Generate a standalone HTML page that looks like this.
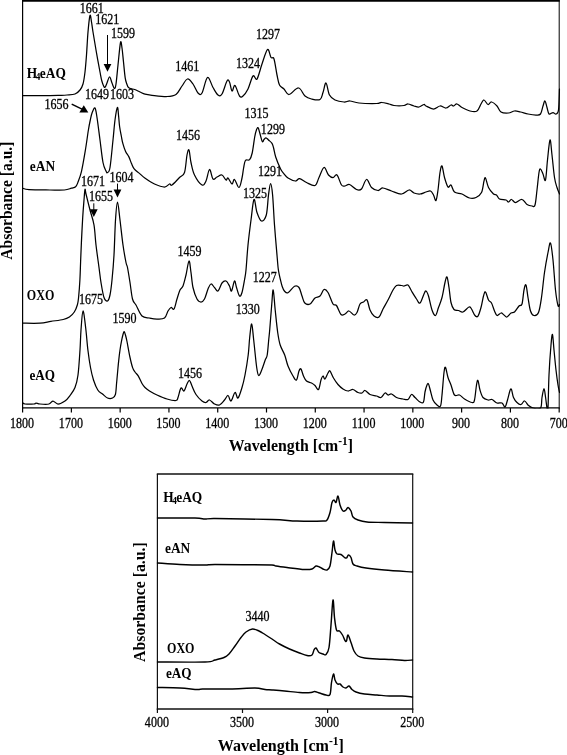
<!DOCTYPE html>
<html><head><meta charset="utf-8"><title>IR spectra</title>
<style>html,body{margin:0;padding:0;background:#fff}svg{display:block}text{font-family:"Liberation Serif","Times New Roman",serif;fill:#000}.pk{font-size:14px;text-anchor:middle;stroke:#000;stroke-width:.3px}.tk{font-size:14px;text-anchor:middle;stroke:#000;stroke-width:.3px}.nm{font-size:13.8px;font-weight:bold}.ax{font-size:16px;font-weight:bold}</style></head><body>
<svg width="567" height="755" viewBox="0 0 567 755">
<rect width="567" height="755" fill="#fff"/>
<g fill="none" stroke="#000">
<line x1="22" y1="0.85" x2="559.7" y2="0.85" stroke-width="1.7"/>
<line x1="22.6" y1="0" x2="22.6" y2="408.4" stroke-width="1.2"/>
<line x1="559.2" y1="0" x2="559.2" y2="408.4" stroke-width="1"/>
<line x1="22" y1="407.9" x2="559.7" y2="407.9" stroke-width="1.3"/>
<line x1="22.60" y1="408" x2="22.60" y2="412.5" stroke-width="1.2"/>
<line x1="71.38" y1="408" x2="71.38" y2="412.5" stroke-width="1.2"/>
<line x1="120.16" y1="408" x2="120.16" y2="412.5" stroke-width="1.2"/>
<line x1="168.94" y1="408" x2="168.94" y2="412.5" stroke-width="1.2"/>
<line x1="217.72" y1="408" x2="217.72" y2="412.5" stroke-width="1.2"/>
<line x1="266.50" y1="408" x2="266.50" y2="412.5" stroke-width="1.2"/>
<line x1="315.28" y1="408" x2="315.28" y2="412.5" stroke-width="1.2"/>
<line x1="364.06" y1="408" x2="364.06" y2="412.5" stroke-width="1.2"/>
<line x1="412.84" y1="408" x2="412.84" y2="412.5" stroke-width="1.2"/>
<line x1="461.62" y1="408" x2="461.62" y2="412.5" stroke-width="1.2"/>
<line x1="510.40" y1="408" x2="510.40" y2="412.5" stroke-width="1.2"/>
<line x1="559.18" y1="408" x2="559.18" y2="412.5" stroke-width="1.2"/>
</g>
<clipPath id="c1"><rect x="22" y="0" width="538.2" height="408.6"/></clipPath>
<g fill="none" stroke="#000" stroke-width="1.25" stroke-linejoin="round" stroke-linecap="round" clip-path="url(#c1)">
<path d="M22.5,95.5C27.18,95.50 43.62,95.53 50,95.5C56.38,95.47 57.11,95.38 60,95.3C62.89,95.22 64.45,95.22 67,95C69.55,94.78 72.79,94.85 75,94C77.21,93.15 78.64,91.70 80,90C81.36,88.30 82.15,87.06 83,84C83.85,80.94 84.41,76.93 85,72C85.59,67.07 85.99,61.80 86.5,55C87.01,48.20 87.41,38.72 88,32C88.59,25.29 89.41,17.20 90,15.5C90.59,13.80 90.99,19.20 91.5,22C92.01,24.80 92.23,27.24 93,32C93.77,36.76 94.81,43.20 96,50C97.19,56.80 98.98,66.64 100,72C101.02,77.36 101.22,78.88 102,81.5C102.78,84.12 103.82,86.98 104.6,87.4C105.38,87.83 105.77,85.77 106.6,84C107.43,82.23 108.58,77.17 109.5,77C110.42,76.83 111.17,81.05 112,83C112.83,84.95 113.72,88.33 114.4,88.5C115.08,88.67 115.39,88.00 116,84C116.61,80.00 117.23,72.06 118,65C118.77,57.95 119.82,45.39 120.5,42.5C121.18,39.61 121.49,44.69 122,48C122.51,51.31 122.96,56.92 123.5,62C124.04,67.08 124.64,74.16 125.2,77.9C125.76,81.64 126.26,82.39 126.8,84C127.34,85.61 127.69,86.60 128.4,87.4C129.11,88.20 129.93,88.34 131,88.7C132.07,89.06 133.17,88.94 134.7,89.5C136.23,90.06 138.25,91.20 140,92C141.75,92.80 142.96,93.64 145,94.2C147.04,94.76 148.26,94.91 152,95.3C155.74,95.69 162.92,96.64 167,96.5C171.08,96.36 173.45,96.28 176,94.5C178.55,92.72 180.04,88.64 182,86C183.96,83.36 185.63,79.34 187.5,79C189.37,78.66 191.22,81.62 193,84C194.78,86.38 196.47,91.47 198,93C199.53,94.53 200.38,95.64 202,93C203.62,90.36 205.63,78.44 207.5,77.5C209.37,76.56 211.22,84.53 213,87.5C214.78,90.47 216.47,93.89 218,95C219.53,96.11 220.47,96.38 222,94C223.53,91.62 225.72,83.04 227,81C228.28,78.96 228.65,80.30 229.5,82C230.35,83.70 231.06,90.41 232,91C232.94,91.59 233.72,84.65 235,85.5C236.28,86.35 238.14,94.22 239.5,96C240.86,97.78 241.56,97.19 243,96C244.44,94.81 246.30,92.40 248,89C249.70,85.60 251.47,77.70 253,76C254.53,74.30 255.47,81.04 257,79C258.53,76.96 260.21,69.02 262,64C263.79,58.98 265.97,50.60 267.5,49.5C269.03,48.40 269.89,55.88 271,57.5C272.11,59.12 272.98,56.02 274,59C275.02,61.98 276.06,70.58 277,75C277.94,79.42 278.31,82.62 279.5,85C280.69,87.38 282.38,87.39 284,89C285.62,90.61 286.54,94.67 289,94.5C291.46,94.33 295.78,87.75 298.5,88C301.22,88.25 302.79,94.13 305,96C307.21,97.87 308.95,98.41 311.5,99C314.05,99.59 318.05,100.61 320,99.5C321.95,98.39 321.98,95.31 323,92.5C324.02,89.69 324.89,82.58 326,83C327.11,83.42 327.97,92.11 329.5,95C331.03,97.89 332.54,98.81 335,100C337.46,101.19 341.45,101.83 344,102C346.55,102.17 347.45,100.83 350,101C352.55,101.17 354.50,102.58 359,103C363.50,103.42 372.68,103.58 376.5,103.5C380.32,103.42 379.38,102.42 381.5,102.5C383.62,102.58 386.88,103.49 389,104C391.12,104.51 391.45,105.25 394,105.5C396.55,105.75 401.62,105.75 404,105.5C406.38,105.25 406.30,103.92 408,104C409.70,104.08 412.13,105.49 414,106C415.87,106.51 417.30,107.25 419,107C420.70,106.75 422.81,104.67 424,104.5C425.19,104.33 424.38,105.23 426,106C427.62,106.77 431.12,109.00 433.5,109C435.88,109.00 437.88,106.17 440,106C442.12,105.83 444.13,108.17 446,108C447.87,107.83 449.73,105.34 451,105C452.27,104.66 452.48,106.17 453.5,106C454.52,105.83 455.56,103.75 457,104C458.44,104.25 459.79,106.31 462,107.5C464.21,108.69 467.45,110.41 470,111C472.55,111.59 475.13,112.19 477,111C478.87,109.81 479.81,105.87 481,104C482.19,102.13 482.81,99.92 484,100C485.19,100.08 486.73,104.16 488,104.5C489.27,104.84 489.97,101.75 491.5,102C493.03,102.25 495.38,104.30 497,106C498.62,107.70 499.05,110.81 501,112C502.95,113.19 506.20,113.17 508.5,113C510.80,112.83 512.46,111.17 514.5,111C516.54,110.83 518.21,111.49 520.5,112C522.79,112.51 525.37,113.49 528,114C530.63,114.51 533.88,115.00 536,115C538.12,115.00 539.31,115.53 540.5,114C541.69,112.47 542.24,108.21 543,106C543.76,103.79 544.32,100.75 545,101C545.68,101.25 546.32,105.29 547,107.5C547.68,109.71 547.98,113.15 549,114C550.02,114.85 551.81,112.50 553,112.5C554.19,112.50 555.07,114.42 556,114C556.93,113.58 557.90,114.25 558.5,110C559.10,105.75 559.33,92.57 559.5,89"/>
<path d="M22.5,188.2C23.61,188.44 24.32,189.29 29,189.6C33.67,189.91 43.98,189.93 50,190C56.02,190.07 60.76,190.31 64.4,190C68.04,189.69 69.50,188.74 71.4,188.2C73.30,187.66 74.51,187.75 75.6,186.8C76.69,185.85 76.80,185.23 77.8,182.6C78.80,179.97 80.21,176.84 81.5,171.3C82.79,165.76 84.23,157.02 85.4,150C86.57,142.98 87.57,135.10 88.4,130C89.23,124.90 89.65,122.97 90.3,120C90.95,117.03 91.40,114.54 92.2,112.5C93.00,110.46 94.18,107.15 95,108C95.82,108.85 96.15,112.06 97,117.5C97.85,122.94 98.98,132.35 100,140C101.02,147.65 101.98,157.23 103,162.5C104.02,167.77 105.23,169.30 106,171C106.77,172.70 106.82,173.09 107.5,172.5C108.18,171.91 109.06,173.03 110,167.5C110.94,161.97 112.15,148.07 113,140C113.85,131.93 114.25,125.54 115,120C115.75,114.46 116.79,108.08 117.4,107.4C118.01,106.72 118.23,112.75 118.6,116C118.97,119.25 119.14,123.10 119.6,126.5C120.06,129.90 120.74,133.08 121.3,136C121.86,138.92 122.17,141.05 122.9,143.7C123.63,146.35 124.58,149.36 125.6,151.6C126.62,153.84 127.90,154.88 128.9,156.9C129.90,158.92 130.60,161.48 131.5,163.5C132.40,165.52 132.84,167.12 134.2,168.8C135.56,170.48 137.70,171.84 139.5,173.4C141.30,174.96 142.25,176.20 144.8,178C147.35,179.80 151.15,182.47 154.5,184C157.85,185.53 161.95,187.00 164.5,187C167.05,187.00 168.22,184.34 169.5,184C170.78,183.66 170.30,186.10 172,185C173.70,183.90 177.38,179.62 179.5,177.5C181.62,175.38 183.22,176.32 184.5,172.5C185.78,168.68 186.24,158.82 187,155C187.76,151.18 188.32,148.72 189,150C189.68,151.28 190.06,158.25 191,162.5C191.94,166.75 192.63,171.18 194.5,175C196.37,178.82 200.04,183.98 202,185C203.96,186.02 204.72,183.63 206,181C207.28,178.37 208.31,169.84 209.5,169.5C210.69,169.16 211.72,177.72 213,179C214.28,180.28 215.47,177.68 217,177C218.53,176.32 220.47,174.49 222,175C223.53,175.51 224.98,179.49 226,180C227.02,180.51 226.98,177.32 228,178C229.02,178.68 230.90,183.75 232,184C233.10,184.25 233.31,178.91 234.5,179.5C235.69,180.09 237.72,187.75 239,187.5C240.28,187.25 241.22,181.31 242,178C242.78,174.69 243.02,170.97 243.6,168C244.18,165.03 244.38,161.93 245.4,160.5C246.42,159.07 248.44,160.88 249.6,159.6C250.76,158.32 251.33,156.84 252.2,153C253.07,149.16 253.97,140.94 254.7,137C255.43,133.06 255.92,131.36 256.5,129.8C257.08,128.24 257.54,127.26 258.1,127.8C258.66,128.34 259.09,130.67 259.8,133C260.51,135.33 261.59,140.40 262.3,141.5C263.01,142.60 263.37,140.13 264,139.5C264.63,138.87 265.24,137.72 266,137.8C266.76,137.89 267.48,139.06 268.5,140C269.52,140.94 271.13,141.94 272,143.3C272.87,144.66 272.97,145.67 273.6,148C274.23,150.33 274.51,153.43 275.7,157C276.89,160.57 279.19,166.14 280.6,169C282.01,171.86 282.74,172.27 284,173.8C285.26,175.33 286.05,176.78 288,178C289.95,179.22 293.55,180.90 295.5,181C297.45,181.10 297.63,178.34 299.5,178.6C301.37,178.85 303.87,181.33 306.5,182.5C309.13,183.67 312.88,186.35 315,185.5C317.12,184.65 317.47,180.56 319,177.5C320.53,174.44 322.38,167.93 324,167.5C325.62,167.07 326.97,173.30 328.5,175C330.03,176.70 331.56,177.50 333,177.5C334.44,177.50 335.56,173.72 337,175C338.44,176.28 340.14,183.13 341.5,185C342.86,186.87 343.64,186.09 345,186C346.36,185.91 347.55,183.91 349.5,184.5C351.45,185.09 354.46,188.74 356.5,189.5C358.54,190.26 359.80,190.70 361.5,189C363.20,187.30 364.80,179.75 366.5,179.5C368.20,179.25 369.55,185.63 371.5,187.5C373.45,189.37 376.05,190.41 378,190.5C379.95,190.59 380.70,187.91 383,188C385.30,188.09 388.36,189.98 391.5,191C394.64,192.02 398.52,194.17 401.5,194C404.48,193.83 406.88,190.17 409,190C411.12,189.83 412.13,192.32 414,193C415.87,193.68 417.96,194.17 420,194C422.04,193.83 424.21,192.51 426,192C427.79,191.49 429.23,190.49 430.5,191C431.77,191.51 432.56,193.38 433.5,195C434.44,196.62 435.24,201.35 436,200.5C436.76,199.65 437.32,194.76 438,190C438.68,185.24 439.32,176.58 440,172.5C440.68,168.42 441.24,165.15 442,166C442.76,166.85 443.48,173.93 444.5,177.5C445.52,181.07 446.89,185.72 448,187C449.11,188.28 449.89,184.15 451,185C452.11,185.85 452.63,190.47 454.5,192C456.37,193.53 459.45,192.98 462,194C464.55,195.02 467.12,197.41 469.5,198C471.88,198.59 473.96,198.44 476,197.5C478.04,196.56 480.14,195.31 481.5,192.5C482.86,189.69 483.32,183.47 484,181C484.68,178.53 484.74,176.90 485.5,178C486.26,179.10 487.14,184.78 488.5,187.5C489.86,190.22 492.14,192.72 493.5,194C494.86,195.28 495.48,194.15 496.5,195C497.52,195.85 497.88,198.15 499.5,199C501.12,199.85 504.47,199.49 506,200C507.53,200.51 507.56,202.09 508.5,202C509.44,201.91 510.31,199.41 511.5,199.5C512.69,199.59 513.72,202.50 515.5,202.5C517.28,202.50 520.04,199.16 522,199.5C523.96,199.84 525.30,203.40 527,204.5C528.70,205.60 530.64,205.91 532,206C533.36,206.09 534.15,207.72 535,205C535.85,202.28 536.32,195.53 537,190C537.68,184.47 538.40,176.07 539,172.5C539.60,168.93 539.82,168.75 540.5,169C541.18,169.25 542.15,172.13 543,174C543.85,175.87 544.74,182.38 545.5,180C546.26,177.62 546.74,166.80 547.5,160C548.26,153.20 549.24,140.85 550,140C550.76,139.15 551.24,148.62 552,155C552.76,161.38 553.65,171.97 554.5,177.5C555.35,183.03 556.15,184.69 557,187.5C557.85,190.31 559.08,192.90 559.5,194"/>
<path d="M22.5,323.2C25.48,323.20 35.17,323.51 40,323.2C44.83,322.89 46.96,322.03 50.9,321.4C54.84,320.77 60.05,320.25 63.2,319.5C66.34,318.75 67.51,318.27 69.4,317C71.29,315.73 72.94,314.09 74.3,312C75.66,309.91 76.67,307.20 77.4,304.7C78.13,302.20 78.17,301.50 78.6,297.3C79.02,293.10 79.56,286.00 79.9,280C80.24,274.00 80.34,268.38 80.6,262C80.85,255.62 81.04,250.06 81.4,242.5C81.76,234.94 82.26,224.72 82.7,217.5C83.14,210.28 83.61,204.76 84,200C84.39,195.24 84.66,190.52 85,189.5C85.34,188.48 85.15,190.51 86,194C86.85,197.49 88.64,204.73 90,210C91.36,215.27 92.98,219.05 94,225C95.02,230.95 95.15,237.78 96,245C96.85,252.22 98.15,261.12 99,267.5C99.85,273.88 100.15,277.40 101,282.5C101.85,287.60 102.89,294.36 104,297.5C105.11,300.64 106.48,301.43 107.5,301C108.52,300.57 109.23,298.57 110,295C110.77,291.43 111.32,286.80 112,280C112.68,273.20 113.41,265.20 114,255C114.59,244.80 114.91,229.01 115.5,220C116.09,210.99 116.73,202.00 117.5,202C118.27,202.00 119.06,212.69 120,220C120.94,227.31 121.98,237.78 123,245C124.02,252.22 125.23,258.68 126,262.5C126.77,266.32 126.82,264.10 127.5,267.5C128.18,270.90 129.15,277.14 130,282.5C130.85,287.86 131.48,295.18 132.5,299C133.52,302.82 134.38,302.11 136,305C137.62,307.89 139.71,313.79 142,316C144.29,318.21 146.95,317.49 149.5,318C152.05,318.51 154.45,319.00 157,319C159.55,319.00 162.63,319.36 164.5,318C166.37,316.64 166.90,312.79 168,311C169.10,309.21 169.98,307.84 171,307.5C172.02,307.16 172.98,310.44 174,309C175.02,307.56 175.98,302.23 177,299C178.02,295.77 178.98,292.21 180,290C181.02,287.79 181.98,288.55 183,286C184.02,283.45 184.98,279.25 186,275C187.02,270.75 188.15,261.43 189,261C189.85,260.57 190.32,268.00 191,272.5C191.68,277.00 191.98,283.00 193,287.5C194.02,292.00 195.64,296.54 197,299C198.36,301.46 199.72,302.00 201,302C202.28,302.00 203.31,301.21 204.5,299C205.69,296.79 206.90,291.55 208,289C209.10,286.45 209.90,284.25 211,284C212.10,283.75 213.31,286.31 214.5,287.5C215.69,288.69 216.72,291.76 218,291C219.28,290.24 220.64,284.70 222,283C223.36,281.30 224.72,280.49 226,281C227.28,281.51 228.56,284.30 229.5,286C230.44,287.70 230.65,291.85 231.5,291C232.35,290.15 233.65,281.60 234.5,281C235.35,280.40 235.65,284.95 236.5,287.5C237.35,290.05 238.56,295.15 239.5,296C240.44,296.85 241.15,295.22 242,292.5C242.85,289.78 243.82,283.82 244.5,280C245.18,276.18 245.41,275.95 246,270C246.59,264.05 247.15,253.50 248,245C248.85,236.50 249.98,227.74 251,220C252.02,212.26 252.98,200.78 254,199.5C255.02,198.22 255.72,208.84 257,212.5C258.27,216.16 259.92,220.57 261.5,221C263.08,221.43 265.11,219.42 266.3,215C267.49,210.58 267.77,200.34 268.5,195C269.23,189.66 269.90,183.60 270.6,183.6C271.30,183.60 271.94,187.96 272.6,195C273.26,202.04 273.72,214.38 274.5,225C275.28,235.62 276.54,249.85 277.2,257.5C277.86,265.15 277.84,266.18 278.4,270C278.96,273.82 279.85,277.19 280.5,280C281.15,282.81 281.54,284.63 282.2,286.5C282.86,288.37 283.41,289.93 284.4,291C285.39,292.07 286.28,293.62 288,292.8C289.72,291.98 292.63,287.10 294.5,286.2C296.37,285.30 297.73,285.83 299,287.5C300.27,289.17 301.01,293.37 302,296C302.99,298.63 303.44,301.64 304.8,303C306.16,304.36 308.27,304.85 310,304C311.73,303.15 313.30,299.36 315,298C316.70,296.64 318.47,297.44 320,296C321.53,294.56 322.64,290.10 324,289.5C325.36,288.90 326.47,290.04 328,292.5C329.53,294.96 331.56,301.79 333,304C334.44,306.21 335.14,303.71 336.5,305.5C337.86,307.29 339.56,313.06 341,314.5C342.44,315.94 343.64,314.60 345,314C346.36,313.40 347.47,310.83 349,311C350.53,311.17 352.64,314.75 354,315C355.36,315.25 355.98,314.37 357,312.5C358.02,310.63 358.89,305.79 360,304C361.11,302.21 362.31,302.68 363.5,302C364.69,301.32 365.89,298.64 367,300C368.11,301.36 368.81,307.28 370,310C371.19,312.72 372.47,314.81 374,316C375.53,317.19 377.47,318.19 379,317C380.53,315.81 381.47,311.89 383,309C384.53,306.11 386.30,303.23 388,300C389.70,296.77 391.56,292.46 393,290C394.44,287.54 395.06,286.26 396.5,285.5C397.94,284.74 400.23,285.42 401.5,285.5C402.77,285.58 402.89,286.08 404,286C405.11,285.92 406.73,284.15 408,285C409.27,285.85 410.06,288.62 411.5,291C412.94,293.38 415.06,296.96 416.5,299C417.94,301.04 418.73,303.85 420,303C421.27,302.15 422.98,296.04 424,294C425.02,291.96 425.24,290.66 426,291C426.76,291.34 427.48,292.77 428.5,296C429.52,299.23 430.81,306.69 432,310C433.19,313.31 434.39,315.93 435.5,315.5C436.61,315.07 437.39,310.56 438.5,307.5C439.61,304.44 440.89,301.75 442,297.5C443.11,293.25 444.15,285.99 445,282.5C445.85,279.01 446.32,276.15 447,277C447.68,277.85 448.32,283.17 449,287.5C449.68,291.83 450.15,298.76 451,302.5C451.85,306.24 452.73,308.14 454,309.5C455.27,310.86 456.97,310.07 458.5,310.5C460.03,310.93 461.21,312.60 463,312C464.79,311.40 467.56,307.51 469,307C470.44,306.49 470.48,307.56 471.5,309C472.52,310.44 473.89,314.31 475,315.5C476.11,316.69 476.98,317.36 478,316C479.02,314.64 480.06,310.90 481,307.5C481.94,304.10 482.74,298.63 483.5,296C484.26,293.37 484.65,291.32 485.5,292C486.35,292.68 487.48,298.13 488.5,300C489.52,301.87 490.48,301.13 491.5,303C492.52,304.87 493.56,308.88 494.5,311C495.44,313.12 495.89,315.16 497,315.5C498.11,315.84 499.81,313.08 501,313C502.19,312.92 502.98,314.32 504,315C505.02,315.68 505.81,317.34 507,317C508.19,316.66 509.73,313.85 511,313C512.27,312.15 513.14,313.19 514.5,312C515.86,310.81 517.73,307.36 519,306C520.27,304.64 521.15,306.72 522,304C522.85,301.28 523.32,293.23 524,290C524.68,286.77 525.32,283.73 526,285C526.68,286.27 527.24,293.08 528,297.5C528.76,301.92 529.48,307.94 530.5,311C531.52,314.06 532.64,315.25 534,315.5C535.36,315.75 537.23,315.56 538.5,312.5C539.77,309.44 540.48,304.30 541.5,297.5C542.52,290.70 543.39,280.15 544.5,272.5C545.61,264.85 546.98,257.51 548,252.5C549.02,247.49 549.65,241.72 550.5,243C551.35,244.28 552.15,252.01 553,260C553.85,267.99 554.65,282.26 555.5,290C556.35,297.74 557.32,303.04 558,305.5C558.68,307.96 559.25,304.67 559.5,304.5"/>
<path d="M22.5,402.5C22.93,402.75 23.05,403.75 25,404C26.95,404.25 32.13,404.17 34,404C35.87,403.83 34.98,403.00 36,403C37.02,403.00 37.79,403.83 40,404C42.21,404.17 46.79,404.51 49,404C51.21,403.49 51.47,401.00 53,401C54.53,401.00 55.96,404.00 58,404C60.04,404.00 62.96,402.44 65,401C67.04,399.56 68.30,397.80 70,395.5C71.70,393.20 73.64,390.99 75,387.5C76.36,384.01 77.15,381.38 78,375C78.85,368.62 79.49,357.65 80,350C80.51,342.35 80.49,336.63 81,330C81.51,323.37 82.20,311.34 83,311C83.80,310.66 84.87,321.37 85.7,328C86.53,334.63 87.08,343.29 87.9,350C88.72,356.71 89.55,362.40 90.5,367.5C91.45,372.60 92.26,376.18 93.5,380C94.74,383.82 96.27,387.62 97.8,390C99.33,392.38 100.85,392.64 102.5,394C104.15,395.36 105.80,397.32 107.5,398C109.20,398.68 111.16,398.60 112.5,398C113.84,397.40 114.70,397.05 115.4,394.5C116.10,391.95 116.21,387.00 116.6,383C116.99,379.00 117.34,374.81 117.7,371C118.06,367.19 118.31,364.17 118.7,360.6C119.09,357.03 119.52,353.30 120,350C120.48,346.70 120.99,343.83 121.5,341.2C122.01,338.56 122.54,336.13 123,334.5C123.46,332.87 123.76,331.43 124.2,331.6C124.64,331.77 125.12,333.82 125.6,335.5C126.08,337.18 126.29,337.93 127,341.5C127.71,345.07 128.85,352.06 129.8,356.5C130.75,360.94 131.72,364.97 132.6,367.6C133.48,370.24 134.05,370.59 135,372C135.95,373.41 137.01,373.94 138.2,375.9C139.39,377.85 140.84,381.53 142,383.5C143.16,385.47 143.72,386.23 145,387.5C146.28,388.77 147.46,389.73 149.5,391C151.54,392.27 154.03,393.64 157,395C159.97,396.36 163.77,398.06 167,399C170.23,399.94 174.13,400.75 176,400.5C177.87,400.25 177.15,399.62 178,397.5C178.85,395.38 179.98,389.11 181,388C182.02,386.89 182.98,391.68 184,391C185.02,390.32 186.06,385.79 187,384C187.94,382.21 188.65,380.16 189.5,380.5C190.35,380.84 190.90,383.62 192,386C193.10,388.38 194.30,391.95 196,394.5C197.70,397.05 200.30,399.64 202,401C203.70,402.36 204.72,402.67 206,402.5C207.28,402.33 208.06,399.75 209.5,400C210.94,400.25 212.80,403.15 214.5,404C216.20,404.85 217.80,405.68 219.5,405C221.20,404.32 223.06,401.62 224.5,400C225.94,398.38 226.90,395.33 228,395.5C229.10,395.67 229.81,401.51 231,401C232.19,400.49 233.81,393.01 235,392.5C236.19,391.99 236.81,398.85 238,398C239.19,397.15 240.81,391.41 242,387.5C243.19,383.59 243.95,380.52 245,375C246.05,369.48 247.40,361.38 248.2,355C249.00,348.62 249.10,342.77 249.7,337.5C250.29,332.23 251.02,323.57 251.7,324C252.38,324.43 252.85,332.61 253.7,340C254.55,347.39 255.85,361.46 256.7,367.5C257.55,373.54 257.85,375.07 258.7,375.5C259.55,375.93 260.59,372.63 261.7,370C262.81,367.37 264.26,362.55 265.2,360C266.13,357.45 266.60,358.40 267.2,355C267.80,351.60 268.27,344.25 268.7,340C269.12,335.75 269.19,335.95 269.7,330C270.21,324.05 271.10,311.80 271.7,305C272.30,298.20 272.60,289.15 273.2,290C273.80,290.85 274.44,302.77 275.2,310C275.96,317.23 276.85,326.55 277.7,332.5C278.55,338.45 279.01,341.18 280.2,345C281.39,348.82 283.37,351.43 284.7,355C286.03,358.57 286.59,362.43 288,366C289.41,369.57 291.56,373.62 293,376C294.44,378.38 295.48,380.85 296.5,380C297.52,379.15 298.24,372.87 299,371C299.76,369.13 300.24,368.15 301,369C301.76,369.85 302.56,373.96 303.5,376C304.44,378.04 305.14,379.81 306.5,381C307.86,382.19 310.06,382.24 311.5,383C312.94,383.76 313.81,384.39 315,385.5C316.19,386.61 317.48,390.44 318.5,389.5C319.52,388.56 320.24,382.30 321,380C321.76,377.70 322.32,376.17 323,376C323.68,375.83 324.15,379.51 325,379C325.85,378.49 327.15,374.36 328,373C328.85,371.64 329.06,370.15 330,371C330.94,371.85 332.14,375.70 333.5,378C334.86,380.30 336.38,382.63 338,384.5C339.62,386.37 341.30,387.89 343,389C344.70,390.11 346.30,390.92 348,391C349.70,391.08 351.30,389.25 353,389.5C354.70,389.75 356.47,391.90 358,392.5C359.53,393.10 360.81,393.34 362,393C363.19,392.66 363.64,390.25 365,390.5C366.36,390.75 368.05,393.56 370,394.5C371.95,395.44 374.63,395.49 376.5,396C378.37,396.51 379.56,398.01 381,397.5C382.44,396.99 383.81,393.43 385,393C386.19,392.57 386.89,394.83 388,395C389.11,395.17 390.06,393.57 391.5,394C392.94,394.43 394.55,396.65 396.5,397.5C398.45,398.35 401.05,398.66 403,399C404.95,399.34 406.56,400.26 408,399.5C409.44,398.74 410.31,394.84 411.5,394.5C412.69,394.16 413.56,396.23 415,397.5C416.44,398.77 418.56,401.24 420,402C421.44,402.76 422.65,403.70 423.5,402C424.35,400.30 424.40,394.89 425,392C425.60,389.11 426.40,386.36 427,385C427.60,383.64 427.90,382.98 428.5,384C429.10,385.02 429.74,388.28 430.5,391C431.26,393.72 431.89,397.62 433,400C434.11,402.38 435.73,403.98 437,405C438.27,406.02 439.65,407.70 440.5,406C441.35,404.30 441.40,400.69 442,395C442.60,389.31 443.40,377.18 444,372.5C444.60,367.82 444.82,366.65 445.5,367.5C446.18,368.35 447.06,374.52 448,377.5C448.94,380.48 449.89,382.02 451,385C452.11,387.98 453.06,393.30 454.5,395C455.94,396.70 457.80,394.32 459.5,395C461.20,395.68 462.38,397.73 464.5,399C466.62,400.27 470.30,402.33 472,402.5C473.70,402.67 473.74,402.98 474.5,400C475.26,397.02 475.90,388.31 476.5,385C477.10,381.69 477.40,379.65 478,380.5C478.60,381.35 479.15,387.11 480,390C480.85,392.89 481.64,395.80 483,397.5C484.36,399.20 486.47,399.66 488,400C489.53,400.34 490.47,398.99 492,399.5C493.53,400.01 495.30,402.40 497,403C498.70,403.60 500.64,402.32 502,403C503.36,403.68 504.06,407.51 505,407C505.94,406.49 506.65,402.81 507.5,400C508.35,397.19 509.32,392.29 510,390.5C510.68,388.71 510.90,388.31 511.5,389.5C512.10,390.69 512.57,395.29 513.5,397.5C514.43,399.71 515.73,401.31 517,402.5C518.27,403.69 519.71,404.75 521,404.5C522.29,404.25 523.33,400.83 524.6,401C525.88,401.17 527.07,404.31 528.5,405.5C529.93,406.69 530.96,407.57 533,408C535.04,408.43 538.97,409.79 540.5,408C542.00,406.21 541.40,400.81 542,397.5C542.60,394.19 543.39,388.50 544,388.5C544.61,388.50 545.09,394.19 545.6,397.5C546.11,400.81 546.59,406.21 547,408C547.41,409.79 547.66,413.61 548,408C548.34,402.39 548.49,385.71 549,375C549.51,364.29 550.40,351.88 551,345C551.60,338.12 551.99,333.65 552.5,334.5C553.01,335.35 553.40,343.96 554,350C554.60,356.04 555.32,364.05 556,370C556.68,375.95 557.40,381.18 558,385C558.60,388.82 559.25,391.23 559.5,392.5"/>
</g>
<text class="tk" transform="translate(22.1,427.5) scale(.86,1)">1800</text>
<text class="tk" transform="translate(70.9,427.5) scale(.86,1)">1700</text>
<text class="tk" transform="translate(119.7,427.5) scale(.86,1)">1600</text>
<text class="tk" transform="translate(168.4,427.5) scale(.86,1)">1500</text>
<text class="tk" transform="translate(217.2,427.5) scale(.86,1)">1400</text>
<text class="tk" transform="translate(266.0,427.5) scale(.86,1)">1300</text>
<text class="tk" transform="translate(314.8,427.5) scale(.86,1)">1200</text>
<text class="tk" transform="translate(363.6,427.5) scale(.86,1)">1100</text>
<text class="tk" transform="translate(412.3,427.5) scale(.86,1)">1000</text>
<text class="tk" transform="translate(461.1,427.5) scale(.86,1)">900</text>
<text class="tk" transform="translate(509.9,427.5) scale(.86,1)">800</text>
<text class="tk" transform="translate(558.7,427.5) scale(.86,1)">700</text>
<text class="pk" transform="translate(91.8,12.7) scale(.86,1)">1661</text>
<text class="pk" transform="translate(107.2,23.7) scale(.86,1)">1621</text>
<text class="pk" transform="translate(123.1,38.3) scale(.86,1)">1599</text>
<text class="pk" transform="translate(187.2,71.2) scale(.86,1)">1461</text>
<text class="pk" transform="translate(248.0,67.6) scale(.86,1)">1324</text>
<text class="pk" transform="translate(268.0,38.9) scale(.86,1)">1297</text>
<text class="pk" transform="translate(56.5,109) scale(.86,1)">1656</text>
<text class="pk" transform="translate(97.1,99.3) scale(.86,1)">1649</text>
<text class="pk" transform="translate(122.0,99.3) scale(.86,1)">1603</text>
<text class="pk" transform="translate(188.0,140.4) scale(.86,1)">1456</text>
<text class="pk" transform="translate(256.5,118.2) scale(.86,1)">1315</text>
<text class="pk" transform="translate(272.9,133.6) scale(.86,1)">1299</text>
<text class="pk" transform="translate(270.0,176) scale(.86,1)">1291</text>
<text class="pk" transform="translate(93.0,185.5) scale(.86,1)">1671</text>
<text class="pk" transform="translate(121.5,181.6) scale(.86,1)">1604</text>
<text class="pk" transform="translate(101.1,201.4) scale(.86,1)">1655</text>
<text class="pk" transform="translate(255.0,198) scale(.86,1)">1325</text>
<text class="pk" transform="translate(189.5,255.7) scale(.86,1)">1459</text>
<text class="pk" transform="translate(264.8,282.4) scale(.86,1)">1227</text>
<text class="pk" transform="translate(91.0,304) scale(.86,1)">1675</text>
<text class="pk" transform="translate(124.5,322.5) scale(.86,1)">1590</text>
<text class="pk" transform="translate(247.7,313.8) scale(.86,1)">1330</text>
<text class="pk" transform="translate(190.0,377.5) scale(.86,1)">1456</text>
<text class="nm" transform="translate(26.8,78.2) scale(.97,1)">H<tspan font-size="9.5" dx="-1.5" dy="1.6">4</tspan><tspan dx="-0.5" dy="-1.6">eAQ</tspan></text>
<text class="nm" transform="translate(29.8,170.6) scale(.97,1)">eAN</text>
<text class="nm" transform="translate(26.8,300.2) scale(.875,1)">OXO</text>
<text class="nm" transform="translate(29.5,379.5) scale(.955,1)">eAQ</text>
<g stroke="#000" stroke-width="1" fill="#000">
<line x1="107.5" y1="35" x2="107.5" y2="64.9"/>
<polygon points="103.6,63.900000000000006 111.4,63.900000000000006 107.5,71.7" stroke="none"/>
<line x1="117.5" y1="183.6" x2="117.5" y2="190.6"/>
<polygon points="113.6,189.6 121.4,189.6 117.5,197.4" stroke="none"/>
<line x1="93.8" y1="203.3" x2="93.8" y2="210.2"/>
<polygon points="89.89999999999999,209.2 97.7,209.2 93.8,217" stroke="none"/>
<line x1="71.7" y1="104.1" x2="82" y2="109.2" stroke-width="1.4"/>
<polygon points="79.3,112.6 83.8,105.2 88.3,112.5" stroke="none"/>
</g>
<text class="ax" transform="translate(228.8,450.9) scale(.99,1)">Wavelength [cm<tspan font-size="11.5" dy="-6">-1</tspan><tspan dy="6">]</tspan></text>
<text class="ax" transform="translate(11.9,259.7) rotate(-90) scale(.974,1)">Absorbance [a.u.]</text>
<g fill="none" stroke="#111">
<line x1="156.8" y1="474" x2="413.3" y2="474" stroke-width="1.4"/>
<line x1="157.4" y1="474" x2="157.4" y2="709.4" stroke-width="1.2"/>
<line x1="412.7" y1="474" x2="412.7" y2="709.4" stroke-width="1.2"/>
<line x1="156.8" y1="709" x2="413.3" y2="709" stroke-width="1.3"/>
<line x1="157.40" y1="709" x2="157.40" y2="713" stroke-width="1.2"/>
<line x1="242.50" y1="709" x2="242.50" y2="713" stroke-width="1.2"/>
<line x1="327.60" y1="709" x2="327.60" y2="713" stroke-width="1.2"/>
<line x1="412.70" y1="709" x2="412.70" y2="713" stroke-width="1.2"/>
</g>
<g fill="none" stroke="#000" stroke-width="1.45" stroke-linejoin="round" stroke-linecap="round">
<path d="M157.5,518C163.88,518.00 186.93,517.83 195,518C203.07,518.17 201.60,518.91 205,519C208.40,519.09 205.00,518.41 215,518.5C226.39,518.59 258.06,519.08 272,519.5C285.94,519.92 288.33,520.75 297,521C305.67,521.25 317.90,521.17 323,521C327.00,520.83 325.81,521.45 327,520C328.19,518.55 329.15,515.48 330,512.5C330.85,509.52 331.32,504.62 332,502.5C332.68,500.38 333.32,500.00 334,500C334.68,500.00 335.32,503.18 336,502.5C336.68,501.82 337.32,495.57 338,496C338.68,496.43 339.15,502.45 340,505C340.85,507.55 341.98,510.15 343,511C344.02,511.85 345.15,510.60 346,510C346.85,509.40 347.15,507.33 348,507.5C348.85,507.67 350.15,509.38 351,511C351.85,512.62 351.81,515.47 353,517C354.19,518.53 355.62,519.15 358,520C360.38,520.85 362.50,521.58 367,522C371.50,522.42 376.76,522.33 384.5,522.5C392.24,522.67 407.74,522.91 412.5,523"/>
<path d="M157.5,563C161.32,563.25 171.93,564.16 180,564.5C188.07,564.84 199.05,565.00 205,565C210.95,565.00 205.00,564.50 215,564.5C226.39,564.50 261.63,564.75 272,565C276.00,565.25 273.45,565.58 276,566C278.55,566.42 282.15,566.90 287,567.5C291.85,568.10 300.25,569.25 304.5,569.5C308.75,569.75 310.05,569.60 312,569C313.95,568.40 314.73,566.34 316,566C317.27,565.66 318.31,566.49 319.5,567C320.69,567.51 321.73,568.49 323,569C324.27,569.51 325.81,570.51 327,570C328.19,569.49 329.15,568.98 330,566C330.85,563.02 331.40,556.75 332,552.5C332.60,548.25 332.99,541.42 333.5,541C334.01,540.58 334.40,547.79 335,550C335.60,552.21 335.98,553.24 337,554C338.02,554.76 339.73,553.90 341,554.5C342.27,555.10 343.56,556.90 344.5,557.5C345.44,558.10 345.82,558.42 346.5,558C347.18,557.58 347.74,555.09 348.5,555C349.26,554.91 350.24,555.97 351,557.5C351.76,559.03 351.98,562.55 353,564C354.02,565.45 354.79,565.32 357,566C359.21,566.68 361.32,567.32 366,568C370.68,568.68 376.60,569.32 384.5,570C392.40,570.68 407.74,571.66 412.5,572"/>
<path d="M157.5,662C165.57,662.00 195.22,662.34 205,662C214.78,661.66 211.77,660.76 215,660C218.23,659.24 221.62,658.52 224,657.5C226.38,656.48 227.13,655.96 229,654C230.87,652.04 232.96,648.80 235,646C237.04,643.20 239.13,639.88 241,637.5C242.87,635.12 244.04,633.45 246,632C247.96,630.55 250.29,629.17 252.5,629C254.71,628.83 256.88,630.07 259,631C261.12,631.93 262.79,633.14 265,634.5C267.21,635.86 269.54,637.38 272,639C274.46,640.62 276.52,642.30 279.5,644C282.48,645.70 286.10,647.47 289.5,649C292.90,650.53 296.52,651.89 299.5,653C302.48,654.11 304.88,655.16 307,655.5C309.12,655.84 310.81,655.93 312,655C313.19,654.07 313.32,651.19 314,650C314.68,648.81 315.15,647.58 316,648C316.85,648.42 317.81,651.48 319,652.5C320.19,653.52 321.81,653.66 323,654C324.19,654.34 324.98,655.61 326,654.5C327.02,653.39 328.15,652.51 329,647.5C329.85,642.49 330.32,633.08 331,625C331.68,616.92 332.40,601.27 333,600C333.60,598.73 333.90,612.40 334.5,617.5C335.10,622.60 335.65,627.71 336.5,630C337.35,632.29 338.48,630.15 339.5,631C340.52,631.85 341.56,633.38 342.5,635C343.44,636.62 344.32,639.48 345,640.5C345.68,641.52 345.99,641.93 346.5,641C347.01,640.07 347.24,634.75 348,635C348.76,635.25 349.98,639.78 351,642.5C352.02,645.22 352.81,648.71 354,651C355.19,653.29 356.21,654.81 358,656C359.79,657.19 361.27,657.49 364.5,658C367.73,658.51 372.32,658.75 377,659C381.68,659.25 387.32,659.25 392,659.5C396.68,659.75 401.01,660.41 404.5,660.5C407.99,660.59 411.14,660.09 412.5,660"/>
<path d="M157.5,687.5C161.32,687.59 173.20,687.66 180,688C186.80,688.34 193.68,689.33 197.5,689.5C201.32,689.67 197.50,689.09 202.5,689C208.03,688.91 221.07,689.17 230,689C238.93,688.83 249.05,687.91 255,688C260.95,688.09 262.11,689.16 265,689.5C267.89,689.84 268.69,689.75 272,690C275.31,690.25 279.82,690.58 284.5,691C289.18,691.42 295.00,692.25 299.5,692.5C304.00,692.75 308.45,692.67 311,692.5C313.55,692.33 313.06,691.41 314.5,691.5C315.94,691.59 317.55,692.40 319.5,693C321.45,693.60 324.21,694.75 326,695C327.79,695.25 329.06,696.62 330,694.5C330.94,692.38 330.90,685.99 331.5,682.5C332.10,679.01 332.90,674.42 333.5,674C334.10,673.58 334.32,678.30 335,680C335.68,681.70 336.65,683.32 337.5,684C338.35,684.68 339.06,683.49 340,684C340.94,684.51 341.98,686.32 343,687C344.02,687.68 344.98,688.17 346,688C347.02,687.83 347.98,685.75 349,686C350.02,686.25 350.81,688.48 352,689.5C353.19,690.52 353.88,691.24 356,692C358.12,692.76 360.93,693.49 364.5,694C368.07,694.51 372.75,694.66 377,695C381.25,695.34 385.25,695.83 389.5,696C393.75,696.17 398.09,695.83 402,696C405.91,696.17 410.71,696.83 412.5,697"/>
</g>
<text class="tk" transform="translate(156.9,727) scale(.86,1)">4000</text>
<text class="tk" transform="translate(242.0,727) scale(.86,1)">3500</text>
<text class="tk" transform="translate(327.1,727) scale(.86,1)">3000</text>
<text class="tk" transform="translate(412.2,727) scale(.86,1)">2500</text>
<text class="tk" transform="translate(257.5,621) scale(.86,1)">3440</text>
<text class="nm" transform="translate(163.2,502) scale(.97,1)">H<tspan font-size="9.5" dx="-1.5" dy="1.6">4</tspan><tspan dx="-0.5" dy="-1.6">eAQ</tspan></text>
<text class="nm" transform="translate(165,553) scale(.97,1)">eAN</text>
<text class="nm" transform="translate(167,653.4) scale(.875,1)">OXO</text>
<text class="nm" transform="translate(166,677.7) scale(.955,1)">eAQ</text>
<text class="ax" transform="translate(217.8,751) scale(1.005,1)">Wavelength [cm<tspan font-size="11.5" dy="-6">-1</tspan><tspan dy="6">]</tspan></text>
<text class="ax" transform="translate(145.2,661.9) rotate(-90) scale(.987,1)">Absorbance [a.u.]</text>
</svg></body></html>
